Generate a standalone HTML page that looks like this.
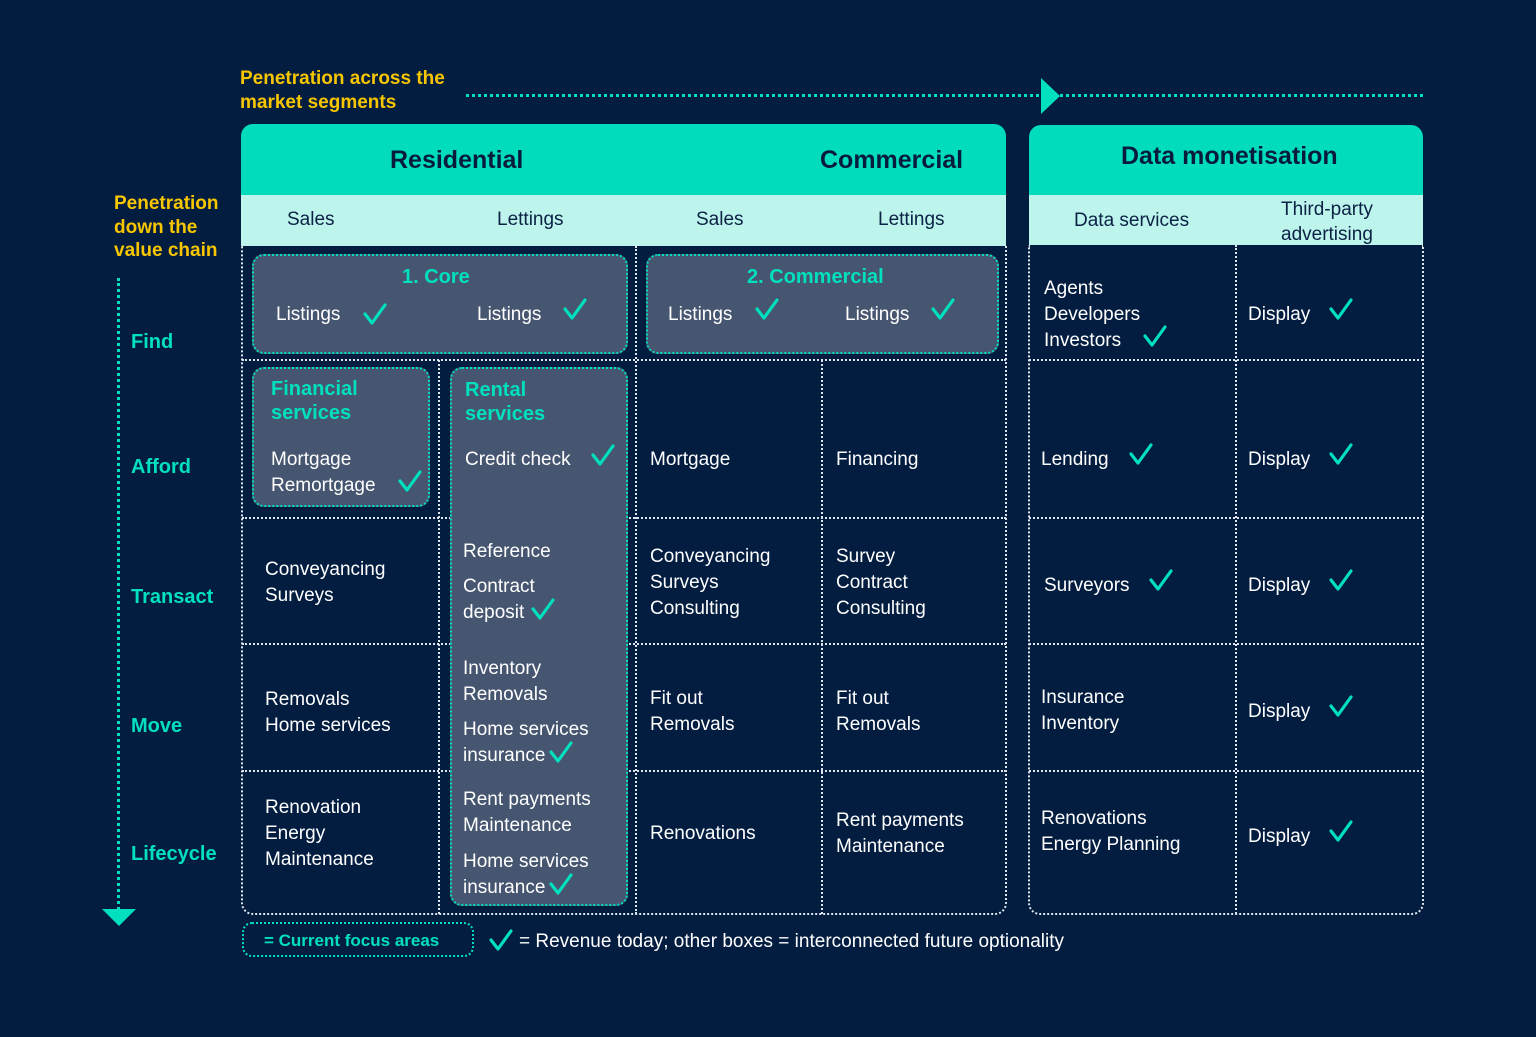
<!DOCTYPE html>
<html><head><meta charset="utf-8"><style>
*{margin:0;padding:0;box-sizing:border-box}
body{width:1536px;height:1037px;background:#031d40;position:relative;overflow:hidden;font-family:"Liberation Sans",sans-serif}
.a{position:absolute}
.t{position:absolute;color:#fff;font-size:19px;line-height:26px;white-space:nowrap;margin-top:2px}
.y{position:absolute;color:#f7c600;font-weight:bold;font-size:19px;line-height:24px;white-space:nowrap}
.g{position:absolute;color:#00e0be;font-weight:bold;font-size:20px;line-height:24px;white-space:nowrap;margin-top:1px}
.h{position:absolute;color:#071c3b;font-weight:bold;font-size:25px;line-height:30px;white-space:nowrap}
.s{position:absolute;color:#0b2145;font-size:19px;line-height:25px;white-space:nowrap;text-align:center;margin-top:1px}
.vl{position:absolute;border-left:2px dotted #dfe6ee;width:0}
.hl{position:absolute;border-top:2px dotted #dfe6ee;height:0}
.fb{position:absolute;background:#465670;border:2px dotted #00e0be;border-radius:12px}
.c{position:absolute;width:24px;height:22px}
</style></head><body>
<svg width="0" height="0" style="position:absolute"><defs><symbol id="ck" viewBox="0 0 24 22"><polyline points="2,11 9,20 22,2" fill="none" stroke="#00e0be" stroke-width="3.2" stroke-linecap="round" stroke-linejoin="round"/></symbol></defs></svg>

<div class="y" style="left:240px;top:67px">Penetration across the<br>market segments</div>
<div class="a" style="left:466px;top:94px;width:957px;border-top:3px dotted #00e0be"></div>
<svg class="a" style="left:1041px;top:78px" width="20" height="36"><polygon points="0,0 19,18 0,36" fill="#00e0be"/></svg>

<div class="y" style="left:114px;top:192px;line-height:23.5px">Penetration<br>down the<br>value chain</div>
<div class="a" style="left:117px;top:278px;height:632px;border-left:3px dotted #00e0be"></div>
<svg class="a" style="left:102px;top:909px" width="34" height="18"><polygon points="0,0 34,0 17,17" fill="#00e0be"/></svg>

<div class="g" style="left:131px;top:329px">Find</div>
<div class="g" style="left:131px;top:454px">Afford</div>
<div class="g" style="left:131px;top:584px">Transact</div>
<div class="g" style="left:131px;top:713px">Move</div>
<div class="g" style="left:131px;top:841px">Lifecycle</div>

<div class="a" style="left:241px;top:124px;width:765px;height:72px;background:#00dcbc;border-radius:12px 12px 0 0"></div>
<div class="a" style="left:241px;top:195px;width:765px;height:51px;background:#bdf5ec"></div>
<div class="h" style="left:390px;top:145px">Residential</div>
<div class="h" style="left:820px;top:145px">Commercial</div>
<div class="s" style="left:287px;top:206px">Sales</div>
<div class="s" style="left:497px;top:206px">Lettings</div>
<div class="s" style="left:696px;top:206px">Sales</div>
<div class="s" style="left:878px;top:206px">Lettings</div>

<div class="a" style="left:1029px;top:125px;width:394px;height:71px;background:#00dcbc;border-radius:12px 12px 0 0"></div>
<div class="a" style="left:1029px;top:195px;width:394px;height:50px;background:#bdf5ec"></div>
<div class="h" style="left:1121px;top:141px">Data monetisation</div>
<div class="s" style="left:1074px;top:207px">Data services</div>
<div class="s" style="left:1281px;top:196px">Third-party<br>advertising</div>

<div class="a" style="left:241px;top:246px;width:766px;height:669px;border:2px dotted #dfe6ee;border-top:none;border-radius:0 0 12px 12px"></div>
<div class="vl" style="left:635px;top:246px;height:668px"></div>
<div class="vl" style="left:438px;top:360px;height:554px"></div>
<div class="vl" style="left:821px;top:360px;height:554px"></div>
<div class="hl" style="left:242px;top:359px;width:764px"></div>
<div class="hl" style="left:242px;top:517px;width:764px"></div>
<div class="hl" style="left:242px;top:643px;width:764px"></div>
<div class="hl" style="left:242px;top:770px;width:764px"></div>

<div class="a" style="left:1028px;top:245px;width:396px;height:670px;border:2px dotted #dfe6ee;border-top:none;border-radius:0 0 12px 12px"></div>
<div class="vl" style="left:1235px;top:245px;height:669px"></div>
<div class="hl" style="left:1029px;top:359px;width:394px"></div>
<div class="hl" style="left:1029px;top:517px;width:394px"></div>
<div class="hl" style="left:1029px;top:643px;width:394px"></div>
<div class="hl" style="left:1029px;top:770px;width:394px"></div>

<div class="fb" style="left:252px;top:254px;width:376px;height:100px"></div>
<div class="fb" style="left:646px;top:254px;width:353px;height:100px"></div>
<div class="fb" style="left:252px;top:367px;width:178px;height:140px"></div>
<div class="fb" style="left:450px;top:367px;width:178px;height:539px"></div>

<div class="g" style="left:402px;top:264px">1. Core</div>
<div class="t" style="left:276px;top:300px">Listings</div><svg class="c" style="left:363px;top:303px"><use href="#ck"/></svg>
<div class="t" style="left:477px;top:300px">Listings</div><svg class="c" style="left:563px;top:298px"><use href="#ck"/></svg>
<div class="g" style="left:747px;top:264px">2. Commercial</div>
<div class="t" style="left:668px;top:300px">Listings</div><svg class="c" style="left:755px;top:298px"><use href="#ck"/></svg>
<div class="t" style="left:845px;top:300px">Listings</div><svg class="c" style="left:931px;top:298px"><use href="#ck"/></svg>

<div class="g" style="left:271px;top:376px">Financial<br>services</div>
<div class="t" style="left:271px;top:445px">Mortgage<br>Remortgage</div><svg class="c" style="left:398px;top:470px"><use href="#ck"/></svg>
<div class="g" style="left:465px;top:377px">Rental<br>services</div>
<div class="t" style="left:465px;top:445px">Credit check</div><svg class="c" style="left:591px;top:444px"><use href="#ck"/></svg>
<div class="t" style="left:650px;top:445px">Mortgage</div>
<div class="t" style="left:836px;top:445px">Financing</div>

<div class="t" style="left:265px;top:555px">Conveyancing<br>Surveys</div>
<div class="t" style="left:463px;top:537px">Reference</div>
<div class="t" style="left:463px;top:572px">Contract<br>deposit</div><svg class="c" style="left:531px;top:598px"><use href="#ck"/></svg>
<div class="t" style="left:650px;top:542px">Conveyancing<br>Surveys<br>Consulting</div>
<div class="t" style="left:836px;top:542px">Survey<br>Contract<br>Consulting</div>

<div class="t" style="left:265px;top:685px">Removals<br>Home services</div>
<div class="t" style="left:463px;top:654px">Inventory<br>Removals</div>
<div class="t" style="left:463px;top:715px">Home services<br>insurance</div><svg class="c" style="left:549px;top:741px"><use href="#ck"/></svg>
<div class="t" style="left:650px;top:684px">Fit out<br>Removals</div>
<div class="t" style="left:836px;top:684px">Fit out<br>Removals</div>

<div class="t" style="left:265px;top:793px">Renovation<br>Energy<br>Maintenance</div>
<div class="t" style="left:463px;top:785px">Rent payments<br>Maintenance</div>
<div class="t" style="left:463px;top:847px">Home services<br>insurance</div><svg class="c" style="left:549px;top:873px"><use href="#ck"/></svg>
<div class="t" style="left:650px;top:819px">Renovations</div>
<div class="t" style="left:836px;top:806px">Rent payments<br>Maintenance</div>

<div class="t" style="left:1044px;top:274px">Agents<br>Developers<br>Investors</div><svg class="c" style="left:1143px;top:325px"><use href="#ck"/></svg>
<div class="t" style="left:1248px;top:300px">Display</div><svg class="c" style="left:1329px;top:298px"><use href="#ck"/></svg>
<div class="t" style="left:1041px;top:445px">Lending</div><svg class="c" style="left:1129px;top:443px"><use href="#ck"/></svg>
<div class="t" style="left:1248px;top:445px">Display</div><svg class="c" style="left:1329px;top:443px"><use href="#ck"/></svg>
<div class="t" style="left:1044px;top:571px">Surveyors</div><svg class="c" style="left:1149px;top:569px"><use href="#ck"/></svg>
<div class="t" style="left:1248px;top:571px">Display</div><svg class="c" style="left:1329px;top:569px"><use href="#ck"/></svg>
<div class="t" style="left:1041px;top:683px">Insurance<br>Inventory</div>
<div class="t" style="left:1248px;top:697px">Display</div><svg class="c" style="left:1329px;top:695px"><use href="#ck"/></svg>
<div class="t" style="left:1041px;top:804px">Renovations<br>Energy Planning</div>
<div class="t" style="left:1248px;top:822px">Display</div><svg class="c" style="left:1329px;top:820px"><use href="#ck"/></svg>

<div class="a" style="left:242px;top:922px;width:232px;height:35px;border:2px dotted #00e0be;border-radius:10px"></div>
<div class="g" style="left:264px;top:928px;font-size:17px">= Current focus areas</div>
<svg class="c" style="left:489px;top:929px"><use href="#ck"/></svg>
<div class="t" style="left:519px;top:927px">= Revenue today; other boxes = interconnected future optionality</div>
</body></html>
